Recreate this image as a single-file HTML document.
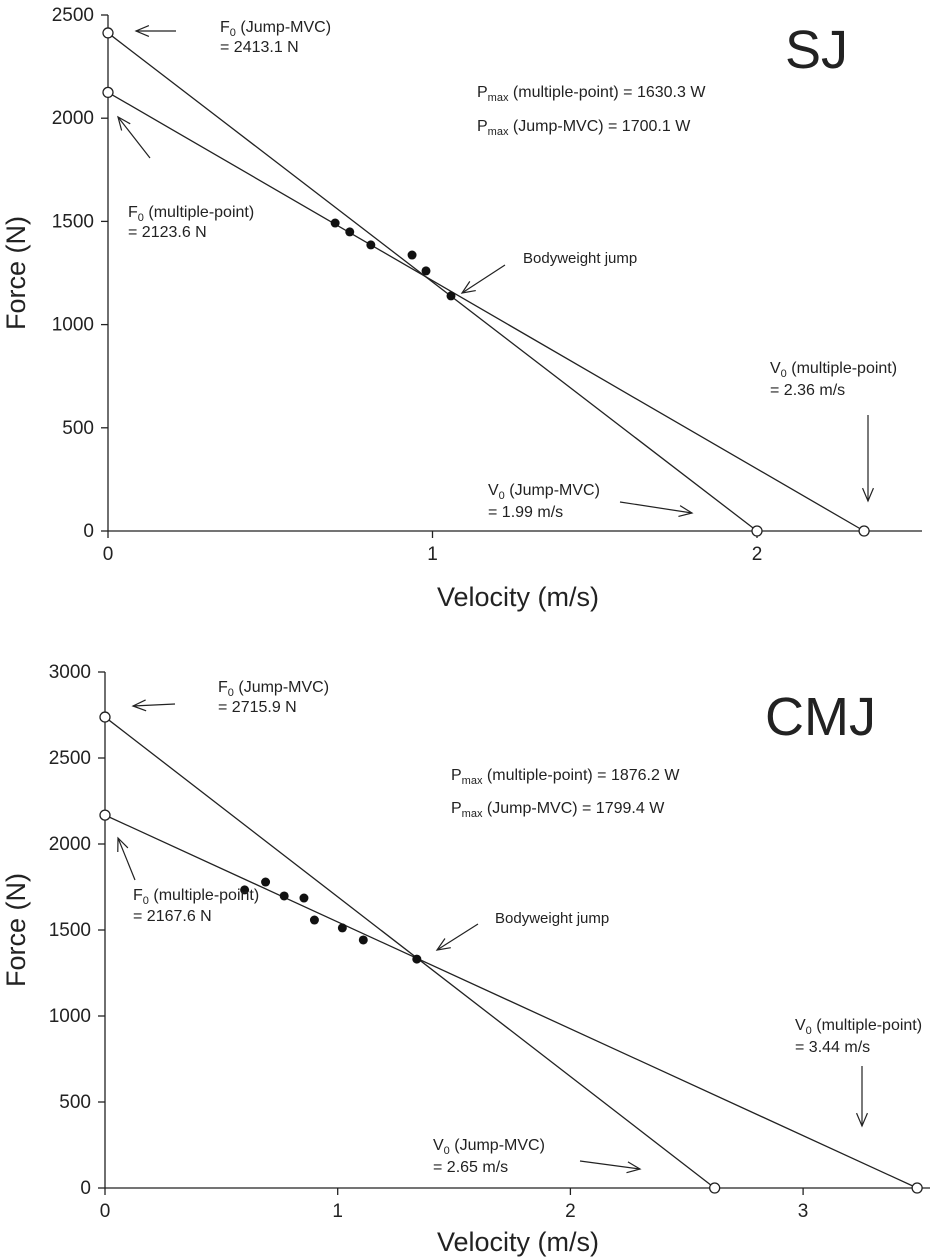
<!DOCTYPE html>
<html><head><meta charset="utf-8"><style>
html,body{margin:0;padding:0;background:#fff}
svg{display:block;font-family:"Liberation Sans",Arial,sans-serif}
text{fill:#222}
</style></head><body>
<svg id="chart" width="944" height="1259" viewBox="0 0 944 1259" xmlns="http://www.w3.org/2000/svg"></svg>
<script>
// SJ panel data
const sjTicksX = [0, 1, 2];
const sjTicksY = [0, 500, 1000, 1500, 2000, 2500];
const sjPointsV = [0.70, 0.745, 0.81, 0.937, 0.98, 1.057];
const sjPointsF = [1492, 1449, 1386, 1337, 1260, 1139];
const sjMvcLine = [2413.1, 2.0];      // F0, V0 (plotted)
const sjMultiLine = [2125, 2.33];     // F0, V0 (plotted)
// CMJ panel data
const cmjTicksX = [0, 1, 2, 3];
const cmjTicksY = [0, 500, 1000, 1500, 2000, 2500, 3000];
const cmjPointsV = [0.60, 0.69, 0.77, 0.855, 0.90, 1.02, 1.11, 1.34];
const cmjPointsF = [1733, 1779, 1698, 1686, 1558, 1512, 1442, 1331];
const cmjMvcLine = [2738, 2.62];
const cmjMultiLine = [2168, 3.49];

const svg = document.getElementById('chart');
const NS = 'http://www.w3.org/2000/svg';
function mk(tag, attrs, parent) {
  const e = document.createElementNS(NS, tag);
  for (const k in attrs) e.setAttribute(k, attrs[k]);
  (parent || svg).appendChild(e);
  return e;
}
function txt(x, y, s, size, name, parent, anchor) {
  const t = mk('text', {x: x, y: y, 'font-size': size, 'text-anchor': anchor || 'start'}, parent);
  
  
  t.innerHTML = s;
  return t;
}
function arrow(x1, y1, x2, y2, name, parent) {
  const g = mk('g', {stroke: '#222', 'stroke-width': 1.2, fill: 'none'}, parent);
  
  
  mk('line', {x1: x1, y1: y1, x2: x2, y2: y2}, g);
  const a = Math.atan2(y1 - y2, x1 - x2), L = 14, s = 0.4;
  mk('polyline', {points: `${x2 + L*Math.cos(a+s)},${y2 + L*Math.sin(a+s)} ${x2},${y2} ${x2 + L*Math.cos(a-s)},${y2 + L*Math.sin(a-s)}`}, g);
}
function sub(main, s) { return `${main}<tspan font-size="11" dy="4">${s}</tspan><tspan dy="-4"> </tspan>`; }

function panel(cfg) {
  const g = mk('g', {});
  
  
  const X = v => cfg.x0 + v * cfg.xs;
  const Y = f => cfg.y0 - f * cfg.ys;
  const ax = mk('g', {stroke: '#222', 'stroke-width': 1.3}, g);
  
  
  mk('line', {x1: cfg.x0, y1: cfg.y0, x2: cfg.xEnd, y2: cfg.y0}, ax);
  mk('line', {x1: cfg.x0, y1: cfg.y0, x2: cfg.x0, y2: cfg.yTop}, ax);
  cfg.tx.forEach(v => {
    mk('line', {x1: X(v), y1: cfg.y0, x2: X(v), y2: cfg.y0 + 7}, ax);
    txt(X(v), cfg.y0 + 29, v, 19, 'x-tick-label', g, 'middle');
  });
  cfg.ty.forEach(v => {
    mk('line', {x1: cfg.x0 - 7, y1: Y(v), x2: cfg.x0, y2: Y(v)}, ax);
    txt(cfg.x0 - 14, Y(v) + 6, v, 19, 'y-tick-label', g, 'end');
  });
  txt(cfg.xTitleX, cfg.y0 + cfg.xTitleOff, 'Velocity (m/s)', 27, 'x-axis-title', g, 'middle');
  const yt = txt(0, 0, 'Force (N)', 27, 'y-axis-title', g, 'middle');
  yt.setAttribute('transform', `translate(25,${cfg.yTitleY}) rotate(-90)`);
  [cfg.mvc, cfg.multi].forEach((l, i) => {
    const ln = mk('line', {x1: X(0), y1: Y(l[0]), x2: X(l[1]), y2: Y(0), stroke: '#222', 'stroke-width': 1.3}, g);
    
    
  });
  cfg.pv.forEach((v, i) => {
    const c = mk('circle', {cx: X(v), cy: Y(cfg.pf[i]), r: 4.5, fill: '#111'}, g);
    
    
  });
  [[0, cfg.mvc[0]], [0, cfg.multi[0]], [cfg.mvc[1], 0], [cfg.multi[1], 0]].forEach(p => {
    const c = mk('circle', {cx: X(p[0]), cy: Y(p[1]), r: 5, fill: '#fff', stroke: '#222', 'stroke-width': 1.3}, g);
    
    
  });
  return g;
}

const g1 = panel({name: 'sj-panel', x0: 108, y0: 531, xs: 324.5, ys: 0.2064, xEnd: 922, yTop: 15, xTitleX: 518, xTitleOff: 75, yTitleY: 273,
  tx: sjTicksX, ty: sjTicksY, pv: sjPointsV, pf: sjPointsF, mvc: sjMvcLine, multi: sjMultiLine});
txt(785, 68, 'SJ', 54, 'panel-title-sj', g1);
txt(220, 32, sub('F', '0') + '(Jump-MVC)', 16, 'annotation', g1);
txt(220, 52, '= 2413.1 N', 16, 'annotation', g1);
arrow(176, 31, 136, 31, 'arrow', g1);
txt(128, 217, sub('F', '0') + '(multiple-point)', 16, 'annotation', g1);
txt(128, 237, '= 2123.6 N', 16, 'annotation', g1);
arrow(150, 158, 118, 117, 'arrow', g1);
txt(477, 97, sub('P', 'max') + '(multiple-point) = 1630.3 W', 16, 'annotation', g1);
txt(477, 131, sub('P', 'max') + '(Jump-MVC) = 1700.1 W', 16, 'annotation', g1);
txt(523, 263, 'Bodyweight jump', 15, 'annotation', g1);
arrow(505, 265, 462, 293, 'arrow', g1);
txt(770, 373, sub('V', '0') + '(multiple-point)', 16, 'annotation', g1);
txt(770, 395, '= 2.36 m/s', 16, 'annotation', g1);
arrow(868, 415, 868, 501, 'arrow', g1);
txt(488, 495, sub('V', '0') + '(Jump-MVC)', 16, 'annotation', g1);
txt(488, 517, '= 1.99 m/s', 16, 'annotation', g1);
arrow(620, 502, 692, 513, 'arrow', g1);

const g2 = panel({name: 'cmj-panel', x0: 105, y0: 1188, xs: 232.7, ys: 0.172, xEnd: 930, yTop: 672, xTitleX: 518, xTitleOff: 63, yTitleY: 930,
  tx: cmjTicksX, ty: cmjTicksY, pv: cmjPointsV, pf: cmjPointsF, mvc: cmjMvcLine, multi: cmjMultiLine});
txt(765, 735, 'CMJ', 54, 'panel-title-cmj', g2);
txt(218, 692, sub('F', '0') + '(Jump-MVC)', 16, 'annotation', g2);
txt(218, 712, '= 2715.9 N', 16, 'annotation', g2);
arrow(175, 704, 133, 706, 'arrow', g2);
txt(133, 900, sub('F', '0') + '(multiple-point)', 16, 'annotation', g2);
txt(133, 921, '= 2167.6 N', 16, 'annotation', g2);
arrow(135, 880, 118, 838, 'arrow', g2);
txt(451, 780, sub('P', 'max') + '(multiple-point) = 1876.2 W', 16, 'annotation', g2);
txt(451, 813, sub('P', 'max') + '(Jump-MVC) = 1799.4 W', 16, 'annotation', g2);
txt(495, 923, 'Bodyweight jump', 15, 'annotation', g2);
arrow(478, 924, 437, 950, 'arrow', g2);
txt(795, 1030, sub('V', '0') + '(multiple-point)', 16, 'annotation', g2);
txt(795, 1052, '= 3.44 m/s', 16, 'annotation', g2);
arrow(862, 1066, 862, 1126, 'arrow', g2);
txt(433, 1150, sub('V', '0') + '(Jump-MVC)', 16, 'annotation', g2);
txt(433, 1172, '= 2.65 m/s', 16, 'annotation', g2);
arrow(580, 1161, 640, 1169, 'arrow', g2);
</script>
</body></html>
